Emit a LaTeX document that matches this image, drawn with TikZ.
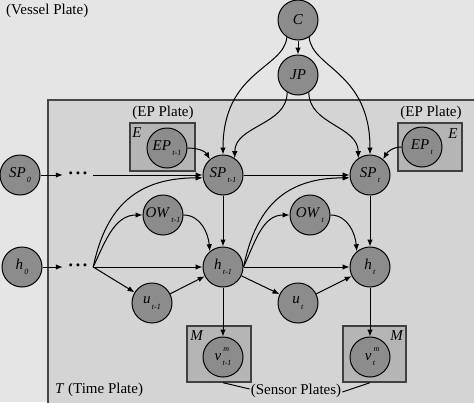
\documentclass[tikz,border=0pt]{standalone}
\usepackage{fontspec}
\setmainfont{Liberation Serif}
\usetikzlibrary{
    arrows.meta,
    positioning,
    calc
}
\newcommand{\var}[2]{\textit{#1}\raisebox{-0.8ex}{\fontsize{8}{8}\selectfont\,\textit{#2}}}
\newcommand{\sens}[1]{\textit{v}\rlap{\raisebox{1.2ex}{\fontsize{8}{8}\selectfont\;\textit{m}}}\raisebox{-0.8ex}{\fontsize{8}{8}\selectfont\,\textit{#1}}}
\newcommand{\ellip}{\textbullet\hspace{0.22em}\textbullet\hspace{0.22em}\textbullet}

\begin{document}
\begin{tikzpicture}[x=1pt, y=-1pt, >={Latex[length=7pt,width=5.5pt]},
    rv/.style={circle, draw=black, fill=black!45, line width=1pt, minimum size=40pt, inner sep=0pt, font=\fontsize{15}{17}\selectfont},
    platebox/.style={draw=black!75, line width=1.4pt, fill=black!29, inner sep=0pt},
    txt/.style={font=\fontsize{15}{17}\selectfont, inner sep=1pt},
    dotnode/.style={minimum width=30pt, inner sep=0pt, font=\fontsize{12.5}{12.5}\selectfont}]
                        \useasboundingbox (0,0) rectangle (474,402);
                        \clip (0,0) rectangle (474,402);
                        \fill[black!10] (0,0) rectangle (474,402);
                        \draw[draw=black!72, line width=1.5pt, fill=black!17] (48,100) rectangle (490,420);
                        % plates
                        \node[platebox, minimum width=65pt, minimum height=48pt] (ea) at (162.5,147) {};
                        \node[platebox, minimum width=64pt, minimum height=48pt] (eb) at (430,147) {};
                        \node[platebox, minimum width=64pt, minimum height=56pt] (ma) at (219,354) {};
                        \node[platebox, minimum width=63pt, minimum height=56pt] (mb) at (374.5,354) {};
                        \node[txt, anchor=west] (vessel) at (5,11) {(Vessel Plate)};
                        \node[txt] (epla) at (163,113) {(EP Plate)};
                        \node[txt] (eplb) at (431,113) {(EP Plate)};
                        \node[txt, anchor=west] (time) at (54,390) {\textit{T} (Time Plate)};
                        \node[txt] (sensor) at (296,391) {(Sensor Plates)};
                        \node[txt] (ela) at (137,133) {\textit{E}};
                        \node[txt] (elb) at (453,134) {\textit{E}};
                        \node[txt] (mla) at (197,336) {\textit{M}};
                        \node[txt] (mlb) at (397,336) {\textit{M}};
                        % variables
                        \node[rv] (c) at (298, 20) {\textit{C}};
                        \node[rv] (jp) at (298, 75) {\textit{JP}};
                        \node[rv] (sp0) at (20, 175) {\var{SP}{0}};
                        \node[rv] (epa) at (167, 148) {\var{EP}{t-1}};
                        \node[rv] (epb) at (422, 147) {\var{EP}{t}};
                        \node[rv] (spa) at (223, 175) {\var{SP}{t-1}};
                        \node[rv] (spb) at (370, 175) {\var{SP}{t}};
                        \node[dotnode] (dotsa) at (78, 175) {\ellip};
                        \node[rv] (owa) at (163, 215) {\var{OW}{t-1}};
                        \node[rv] (owb) at (310, 215) {\var{OW}{t}};
                        \node[rv] (h0) at (22, 267) {\var{h}{0}};
                        \node[dotnode] (dotsb) at (78, 267) {\ellip};
                        \node[rv] (ha) at (223, 267) {\var{h}{t-1}};
                        \node[rv] (hb) at (370, 267) {\var{h}{t}};
                        \node[rv] (ua) at (152, 303) {\var{u}{t-1}};
                        \node[rv] (ub) at (298, 303) {\var{u}{t}};
                        \node[rv] (va) at (223, 357) {\sens{t-1}};
                        \node[rv] (vb) at (370, 357) {\sens{t}};
                        \draw[line width=1pt]
                        (ma.south -| va) -- ([yshift=2pt]sensor.west)
                        (mb.south -| vb) -- ([yshift=-1pt]sensor.east);
                        \draw[line width=1pt]
                        (c) edge[->] (jp)
                        (c.237) edge[->, out=265, in=90, out looseness=0.6, in looseness=1.6] (spa.north)
                        (c.303) edge[->, out=275, in=90, out looseness=0.6, in looseness=1.6] (spb.north)
                        (jp.238) edge[->, out=270, in=90] (spa.55)
                        (jp.302) edge[->, out=270, in=90] (spb.125)
                        (epa.east) edge[->, out=0, in=120] (spa.130)
                        (epb.west) edge[->, out=180, in=60] (spb.50)
                        (sp0) edge[->] (dotsa)
                        (dotsa) edge[->] (spa)
                        (spa) edge[->] (spb)
                        (spa) edge[->] (ha)
                        (spb) edge[->] (hb)
                        (h0) edge[->] (dotsb)
                        (dotsb) edge[->] (ha)
                        (dotsb.east) edge[->, out=78, in=180, in looseness=1.3] (spa.188)
                        (dotsb.east) edge[->, out=65, in=180] (owa)
                        (dotsb.east) edge[->] (ua)
                        (owa) edge[->, out=0, in=95] (ha.130)
                        (ua) edge[->] (ha)
                        (ha) edge[->] (hb)
                        (ha.east) edge[->, out=78, in=180, in looseness=1.3] (spb.188)
                        (ha.east) edge[->, out=65, in=180] (owb)
                        (ha) edge[->] (ub)
                        (owb) edge[->, out=0, in=95] (hb.130)
                        (ub) edge[->] (hb)
                        (ha) edge[->] (va)
                        (hb) edge[->] (vb);
                    \end{tikzpicture}
\end{document}
